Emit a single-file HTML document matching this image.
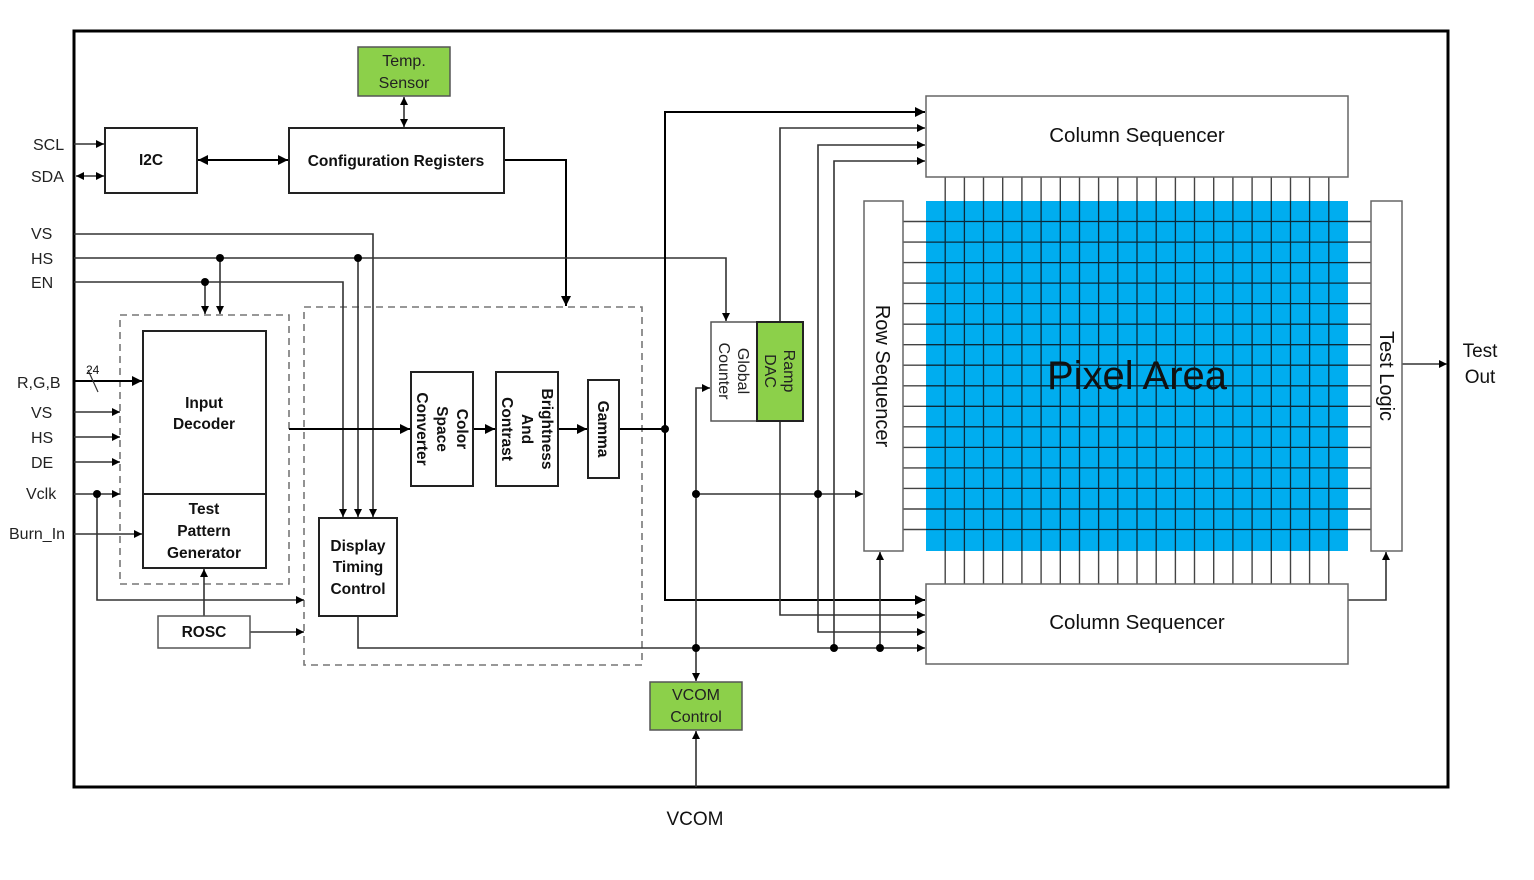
<!DOCTYPE html>
<html><head><meta charset="utf-8"><style>
html,body{margin:0;padding:0;background:#fff;}
svg{display:block;}
text{font-family:"Liberation Sans",sans-serif;fill:#111;}
.b{font-weight:bold;font-size:15.5px;}
.n{font-size:16px;fill:#222;}
</style></head><body>
<svg width="1534" height="880" viewBox="0 0 1534 880" xmlns="http://www.w3.org/2000/svg">
<defs>
<marker id="a" viewBox="0 0 10 10" refX="10" refY="5" markerWidth="10" markerHeight="10" markerUnits="userSpaceOnUse" orient="auto-start-reverse"><path d="M0,0 L10,5 L0,10 z" fill="#000"/></marker>
<marker id="as" viewBox="0 0 10 10" refX="10" refY="5" markerWidth="8" markerHeight="8" markerUnits="userSpaceOnUse" orient="auto-start-reverse"><path d="M0,0 L10,5 L0,10 z" fill="#000"/></marker>
</defs>
<rect x="74" y="31" width="1374" height="756" fill="none" stroke="#000" stroke-width="3"/>

<rect x="120" y="315" width="169" height="269" fill="none" stroke="#777" stroke-width="1.6" stroke-dasharray="7,5"/>
<rect x="304" y="307" width="338" height="358" fill="none" stroke="#777" stroke-width="1.6" stroke-dasharray="7,5"/>

<g fill="none" stroke="#333" stroke-width="1.6">
<line x1="74" y1="144" x2="104" y2="144" marker-end="url(#as)"/>
<line x1="76" y1="176" x2="104" y2="176" marker-end="url(#as)" marker-start="url(#as)"/>
<line x1="198" y1="160" x2="288" y2="160" stroke="#000" stroke-width="2" marker-end="url(#a)" marker-start="url(#a)"/>
<line x1="404" y1="97" x2="404" y2="127" marker-end="url(#as)" marker-start="url(#as)"/>
<polyline points="504,160 566,160 566,306" stroke="#000" stroke-width="2" marker-end="url(#a)"/>
<polyline points="74,234 373,234 373,517" marker-end="url(#as)"/>
<polyline points="74,258 726,258 726,321" marker-end="url(#as)"/>
<polyline points="74,282 343,282 343,517" marker-end="url(#as)"/>
<line x1="358" y1="258" x2="358" y2="517" marker-end="url(#as)"/>
<line x1="220" y1="258" x2="220" y2="314" marker-end="url(#as)"/>
<line x1="205" y1="282" x2="205" y2="314" marker-end="url(#as)"/>
<line x1="74" y1="381" x2="142" y2="381" stroke="#000" stroke-width="2" marker-end="url(#a)"/>
<line x1="88" y1="370" x2="98" y2="392" stroke-width="1.2"/>
<line x1="74" y1="412" x2="120" y2="412" marker-end="url(#as)"/>
<line x1="74" y1="437" x2="120" y2="437" marker-end="url(#as)"/>
<line x1="74" y1="462" x2="120" y2="462" marker-end="url(#as)"/>
<line x1="74" y1="494" x2="120" y2="494" marker-end="url(#as)"/>
<line x1="74" y1="534" x2="142" y2="534" marker-end="url(#as)"/>
<polyline points="97,494 97,600 304,600" marker-end="url(#as)"/>
<line x1="204" y1="616" x2="204" y2="569" marker-end="url(#as)"/>
<line x1="250" y1="632" x2="304" y2="632" marker-end="url(#as)"/>
<line x1="289" y1="429" x2="410" y2="429" stroke="#000" stroke-width="2" marker-end="url(#a)"/>
<line x1="473" y1="429" x2="495" y2="429" stroke="#000" stroke-width="2" marker-end="url(#a)"/>
<line x1="558" y1="429" x2="587" y2="429" stroke="#000" stroke-width="2" marker-end="url(#a)"/>
<line x1="619" y1="429" x2="665" y2="429" stroke="#000" stroke-width="2"/>
<polyline points="925,112 665,112 665,600 925,600" stroke="#000" stroke-width="2" marker-end="url(#a)" marker-start="url(#a)"/>
<polyline points="780,322 780,128 925,128" marker-end="url(#as)"/>
<polyline points="780,421 780,615 925,615" marker-end="url(#as)"/>
<polyline points="925,145 818,145 818,632 925,632" marker-end="url(#as)" marker-start="url(#as)"/>
<polyline points="925,161 834,161 834,648" marker-start="url(#as)"/>
<polyline points="358,616 358,648 925,648" marker-end="url(#as)"/>
<line x1="880" y1="648" x2="880" y2="552" marker-end="url(#as)"/>
<line x1="696" y1="648" x2="696" y2="681" marker-end="url(#as)"/>
<polyline points="696,648 696,388 710,388" marker-end="url(#as)"/>
<line x1="696" y1="494" x2="863" y2="494" marker-end="url(#as)"/>
<line x1="696" y1="787" x2="696" y2="731" marker-end="url(#as)"/>
<polyline points="1348,600 1386,600 1386,552" marker-end="url(#as)"/>
<line x1="1402" y1="364" x2="1447" y2="364" marker-end="url(#as)"/>
</g>

<g fill="#000">
<circle cx="220" cy="258" r="4"/><circle cx="358" cy="258" r="4"/><circle cx="205" cy="282" r="4"/>
<circle cx="97" cy="494" r="4"/><circle cx="665" cy="429" r="4"/><circle cx="696" cy="494" r="4"/>
<circle cx="818" cy="494" r="4"/><circle cx="696" cy="648" r="4"/><circle cx="834" cy="648" r="4"/><circle cx="880" cy="648" r="4"/>
</g>

<g stroke="#222" stroke-width="2" fill="#fff">
<rect x="105" y="128" width="92" height="65"/>
<rect x="289" y="128" width="215" height="65"/>
<rect x="143" y="331" width="123" height="163"/>
<rect x="143" y="494" width="123" height="74"/>
<rect x="411" y="372" width="62" height="114"/>
<rect x="496" y="372" width="62" height="114"/>
<rect x="588" y="380" width="31" height="98"/>
<rect x="319" y="518" width="78" height="98"/>
</g>
<g stroke="#555" stroke-width="1.5">
<rect x="358" y="47" width="92" height="49" fill="#8cd04a"/>
<rect x="650" y="682" width="92" height="48" fill="#8cd04a"/>
<rect x="158" y="616" width="92" height="32" fill="#fff"/>
<rect x="711" y="322" width="46" height="99" fill="#fff"/>
<rect x="757" y="322" width="46" height="99" fill="#8cd04a" stroke="#222" stroke-width="2"/>
</g>

<g stroke="#444" stroke-width="1.4">
<line x1="945.2" y1="177" x2="945.2" y2="584"/><line x1="964.4" y1="177" x2="964.4" y2="584"/><line x1="983.5" y1="177" x2="983.5" y2="584"/><line x1="1002.7" y1="177" x2="1002.7" y2="584"/><line x1="1021.9" y1="177" x2="1021.9" y2="584"/><line x1="1041.1" y1="177" x2="1041.1" y2="584"/><line x1="1060.3" y1="177" x2="1060.3" y2="584"/><line x1="1079.5" y1="177" x2="1079.5" y2="584"/><line x1="1098.6" y1="177" x2="1098.6" y2="584"/><line x1="1117.8" y1="177" x2="1117.8" y2="584"/><line x1="1137" y1="177" x2="1137" y2="584"/><line x1="1156.2" y1="177" x2="1156.2" y2="584"/><line x1="1175.4" y1="177" x2="1175.4" y2="584"/><line x1="1194.5" y1="177" x2="1194.5" y2="584"/><line x1="1213.7" y1="177" x2="1213.7" y2="584"/><line x1="1232.9" y1="177" x2="1232.9" y2="584"/><line x1="1252.1" y1="177" x2="1252.1" y2="584"/><line x1="1271.3" y1="177" x2="1271.3" y2="584"/><line x1="1290.5" y1="177" x2="1290.5" y2="584"/><line x1="1309.6" y1="177" x2="1309.6" y2="584"/><line x1="1328.8" y1="177" x2="1328.8" y2="584"/>
<line x1="903" y1="221.5" x2="1371" y2="221.5"/><line x1="903" y1="242.1" x2="1371" y2="242.1"/><line x1="903" y1="262.6" x2="1371" y2="262.6"/><line x1="903" y1="283.1" x2="1371" y2="283.1"/><line x1="903" y1="303.6" x2="1371" y2="303.6"/><line x1="903" y1="324.2" x2="1371" y2="324.2"/><line x1="903" y1="344.7" x2="1371" y2="344.7"/><line x1="903" y1="365.2" x2="1371" y2="365.2"/><line x1="903" y1="385.8" x2="1371" y2="385.8"/><line x1="903" y1="406.3" x2="1371" y2="406.3"/><line x1="903" y1="426.8" x2="1371" y2="426.8"/><line x1="903" y1="447.4" x2="1371" y2="447.4"/><line x1="903" y1="467.9" x2="1371" y2="467.9"/><line x1="903" y1="488.4" x2="1371" y2="488.4"/><line x1="903" y1="509" x2="1371" y2="509"/><line x1="903" y1="529.5" x2="1371" y2="529.5"/>
</g>
<rect x="926" y="201" width="422" height="350" fill="#00adef"/>
<g stroke="#0a2a3a" stroke-width="1.3">
<line x1="945.2" y1="201" x2="945.2" y2="551"/><line x1="964.4" y1="201" x2="964.4" y2="551"/><line x1="983.5" y1="201" x2="983.5" y2="551"/><line x1="1002.7" y1="201" x2="1002.7" y2="551"/><line x1="1021.9" y1="201" x2="1021.9" y2="551"/><line x1="1041.1" y1="201" x2="1041.1" y2="551"/><line x1="1060.3" y1="201" x2="1060.3" y2="551"/><line x1="1079.5" y1="201" x2="1079.5" y2="551"/><line x1="1098.6" y1="201" x2="1098.6" y2="551"/><line x1="1117.8" y1="201" x2="1117.8" y2="551"/><line x1="1137" y1="201" x2="1137" y2="551"/><line x1="1156.2" y1="201" x2="1156.2" y2="551"/><line x1="1175.4" y1="201" x2="1175.4" y2="551"/><line x1="1194.5" y1="201" x2="1194.5" y2="551"/><line x1="1213.7" y1="201" x2="1213.7" y2="551"/><line x1="1232.9" y1="201" x2="1232.9" y2="551"/><line x1="1252.1" y1="201" x2="1252.1" y2="551"/><line x1="1271.3" y1="201" x2="1271.3" y2="551"/><line x1="1290.5" y1="201" x2="1290.5" y2="551"/><line x1="1309.6" y1="201" x2="1309.6" y2="551"/><line x1="1328.8" y1="201" x2="1328.8" y2="551"/>
<line x1="926" y1="221.5" x2="1348" y2="221.5"/><line x1="926" y1="242.1" x2="1348" y2="242.1"/><line x1="926" y1="262.6" x2="1348" y2="262.6"/><line x1="926" y1="283.1" x2="1348" y2="283.1"/><line x1="926" y1="303.6" x2="1348" y2="303.6"/><line x1="926" y1="324.2" x2="1348" y2="324.2"/><line x1="926" y1="344.7" x2="1348" y2="344.7"/><line x1="926" y1="365.2" x2="1348" y2="365.2"/><line x1="926" y1="385.8" x2="1348" y2="385.8"/><line x1="926" y1="406.3" x2="1348" y2="406.3"/><line x1="926" y1="426.8" x2="1348" y2="426.8"/><line x1="926" y1="447.4" x2="1348" y2="447.4"/><line x1="926" y1="467.9" x2="1348" y2="467.9"/><line x1="926" y1="488.4" x2="1348" y2="488.4"/><line x1="926" y1="509" x2="1348" y2="509"/><line x1="926" y1="529.5" x2="1348" y2="529.5"/>
</g>
<g stroke="#666" stroke-width="1.5" fill="#fff">
<rect x="926" y="96" width="422" height="81"/>
<rect x="926" y="584" width="422" height="80"/>
<rect x="864" y="201" width="39" height="350"/>
<rect x="1371" y="201" width="31" height="350"/>
</g>

<text class="n" x="33" y="150">SCL</text>
<text class="n" x="31" y="182">SDA</text>
<text class="n" x="31" y="239">VS</text>
<text class="n" x="31" y="264">HS</text>
<text class="n" x="31" y="288">EN</text>
<text class="n" x="17" y="388">R,G,B</text>
<text x="86" y="374" font-size="12">24</text>
<text class="n" x="31" y="418">VS</text>
<text class="n" x="31" y="443">HS</text>
<text class="n" x="31" y="468">DE</text>
<text class="n" x="26" y="499">Vclk</text>
<text class="n" x="9" y="539" font-size="15">Burn_In</text>
<text class="b" x="151" y="165" text-anchor="middle" font-size="14">I2C</text>
<text class="b" x="396" y="166" text-anchor="middle">Configuration Registers</text>
<text class="n" x="404" y="66" text-anchor="middle">Temp.</text>
<text class="n" x="404" y="88" text-anchor="middle">Sensor</text>
<text class="b" x="204" y="408" text-anchor="middle">Input</text>
<text class="b" x="204" y="429" text-anchor="middle">Decoder</text>
<text class="b" x="204" y="514" text-anchor="middle">Test</text>
<text class="b" x="204" y="536" text-anchor="middle">Pattern</text>
<text class="b" x="204" y="558" text-anchor="middle">Generator</text>
<text class="b" x="204" y="637" text-anchor="middle">ROSC</text>
<text class="b" x="358" y="551" text-anchor="middle">Display</text>
<text class="b" x="358" y="572" text-anchor="middle">Timing</text>
<text class="b" x="358" y="594" text-anchor="middle">Control</text>
<g transform="translate(442,429) rotate(90)"><text class="b" x="0" y="-15" text-anchor="middle">Color</text><text class="b" x="0" y="5" text-anchor="middle">Space</text><text class="b" x="0" y="25" text-anchor="middle">Converter</text></g>
<g transform="translate(527,429) rotate(90)"><text class="b" x="0" y="-15" text-anchor="middle">Brightness</text><text class="b" x="0" y="5" text-anchor="middle">And</text><text class="b" x="0" y="25" text-anchor="middle">Contrast</text></g>
<g transform="translate(603,429) rotate(90)"><text class="b" x="0" y="5" text-anchor="middle">Gamma</text></g>
<g transform="translate(734,371) rotate(90)"><text class="n" x="0" y="-4" text-anchor="middle">Global</text><text class="n" x="0" y="15" text-anchor="middle">Counter</text></g>
<g transform="translate(780,371) rotate(90)"><text class="n" x="0" y="-4" text-anchor="middle">Ramp</text><text class="n" x="0" y="15" text-anchor="middle">DAC</text></g>
<g transform="translate(883,376) rotate(90)"><text x="0" y="7" text-anchor="middle" font-size="20" fill="#222">Row Sequencer</text></g>
<g transform="translate(1386,376) rotate(90)"><text x="0" y="6" text-anchor="middle" font-size="20" fill="#222">Test Logic</text></g>
<text x="1137" y="142" text-anchor="middle" font-size="20.5" fill="#222">Column Sequencer</text>
<text x="1137" y="629" text-anchor="middle" font-size="20.5" fill="#222">Column Sequencer</text>
<text x="1137" y="389" text-anchor="middle" font-size="40" fill="#000">Pixel Area</text>
<text class="n" x="696" y="700" text-anchor="middle">VCOM</text>
<text class="n" x="696" y="722" text-anchor="middle">Control</text>
<text x="695" y="825" text-anchor="middle" font-size="19" fill="#222">VCOM</text>
<text x="1480" y="357" text-anchor="middle" font-size="19" fill="#222">Test</text>
<text x="1480" y="383" text-anchor="middle" font-size="19" fill="#222">Out</text>
</svg>
</body></html>
